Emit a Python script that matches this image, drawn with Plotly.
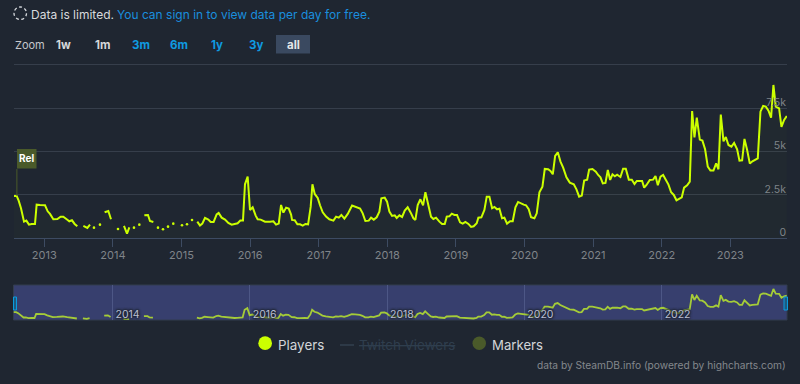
import plotly.graph_objects as go

W, H = 800, 384
FONT = "Inter"

# Player counts; None marks a gap in the data
years = [
 2012.558,2012.597,2012.626,2012.660,2012.704,2012.738,2012.776,2012.815,2012.864,2012.888,2012.937,2013.010,2013.049,2013.083,2013.131,2013.190,2013.238,2013.277,2013.340,2013.364,2013.403,2013.442,2013.481,2013.52,
 2013.569,2013.627,2013.666,2013.69,2013.724,2013.76,2013.811,2013.85,
 2013.879,2013.933,2013.972,2014.02,2014.074,2014.12,2014.161,2014.205,2014.239,2014.27,2014.307,2014.35,2014.385,2014.42,
 2014.458,2014.511,2014.540,2014.589,2014.62,2014.657,2014.69,2014.730,2014.77,2014.803,2014.84,2014.880,2014.94,2015.007,2015.04,2015.080,2015.12,2015.153,2015.19,
 2015.230,2015.269,2015.303,2015.342,2015.391,2015.425,2015.468,2015.512,2015.541,2015.585,2015.634,2015.682,2015.731,2015.779,2015.818,2015.857,2015.896,2015.925,2015.964,2015.998,
 2016.037,2016.081,2016.110,2016.154,2016.217,2016.290,2016.339,2016.378,2016.417,2016.451,2016.485,2016.524,2016.563,2016.597,2016.611,2016.650,2016.689,2016.728,2016.767,2016.806,2016.845,2016.883,2016.908,2016.942,2016.985,
 2017.019,2017.058,2017.107,2017.155,2017.214,2017.253,2017.292,2017.330,2017.374,2017.423,2017.486,2017.534,2017.603,2017.641,2017.680,2017.729,2017.763,2017.802,2017.845,2017.884,2017.913,2017.962,2017.996,
 2018.030,2018.069,2018.108,2018.137,2018.176,2018.215,2018.254,2018.297,2018.341,2018.380,2018.409,2018.443,2018.482,2018.521,2018.555,2018.594,2018.637,2018.671,2018.710,2018.759,2018.798,2018.837,2018.866,2018.905,2018.939,2018.978,
 2019.016,2019.060,2019.099,2019.138,2019.182,2019.221,2019.259,2019.303,2019.327,2019.371,2019.415,2019.449,2019.488,2019.527,2019.561,2019.600,2019.634,2019.672,2019.706,2019.745,2019.789,2019.828,2019.867,2019.906,2019.949,2019.988,
 2020.022,2020.061,2020.095,2020.144,2020.178,2020.217,2020.261,2020.295,2020.344,2020.378,2020.412,2020.446,2020.485,2020.524,2020.563,2020.611,2020.660,2020.718,2020.757,2020.796,2020.835,2020.869,2020.913,2020.942,2020.990,
 2021.039,2021.073,2021.107,2021.141,2021.180,2021.214,2021.248,2021.282,2021.316,2021.350,2021.398,2021.437,2021.476,2021.520,2021.564,2021.603,2021.637,2021.714,2021.744,2021.778,2021.826,2021.875,2021.909,2021.943,2021.982,
 2022.020,2022.059,2022.098,2022.137,2022.176,2022.215,2022.253,2022.292,2022.326,2022.370,2022.409,2022.443,2022.477,2022.511,2022.555,2022.593,2022.632,2022.671,2022.710,2022.754,2022.793,2022.827,2022.861,2022.900,2022.934,2022.973,
 2023.016,2023.055,2023.099,2023.133,2023.172,2023.206,2023.245,2023.284,2023.322,2023.361,2023.400,2023.439,2023.478,2023.517,2023.556,2023.594,2023.628,2023.662,2023.711,2023.745,2023.784,2023.823,
]
players = [
 2438,2438,2170,1728,960,1018,787,826,826,1939,1920,1901,1555,1402,1094,1114,1248,1248,1056,979,1037,826,691,None,
 710,595,787,None,614,None,787,None,
 1498,1574,1094,None,538,None,710,269,634,None,614,None,787,None,
 1325,1344,998,941,None,614,None,518,None,672,None,845,None,749,None,806,None,1056,None,
 960,730,845,1171,1075,941,941,1382,1459,1190,1075,883,787,826,864,1018,1018,3110,3552,1632,
 1786,1306,1094,1075,960,960,979,787,845,1920,1478,1766,1709,1363,1056,1037,806,806,730,826,806,1824,3110,2554,2323,
 1901,1498,1248,1094,1018,1248,1190,1344,1133,1402,1882,1824,1709,1440,998,1018,1190,1075,1210,1536,2304,2342,2112,
 1536,1286,1325,1171,1325,1229,1594,1786,1478,1152,1056,1920,2246,1901,2650,1978,1248,1114,1190,960,826,826,1248,1267,1421,1344,
 1344,922,845,941,826,653,691,864,1190,1210,1632,2400,2400,1728,1805,1670,1709,1152,1190,845,979,979,1786,2093,1997,1939,
 1901,1670,1210,1152,1440,2650,2976,3994,3974,3878,3686,4742,4954,4416,4070,3514,3206,3110,2822,2400,2458,3322,3379,3955,3994,
 3840,3648,3514,3168,3187,3936,3360,3686,3571,3667,3533,4013,4013,3379,3379,3130,3302,3302,2918,3072,3360,3379,3590,3053,3552,
 3648,3398,3091,2650,2496,2189,2266,2362,2918,3053,3264,7334,5818,6950,5683,5626,5126,4128,3898,3898,4320,3974,7123,5587,5837,5376,
 5280,5491,5126,4474,4493,5722,5088,4301,4435,4531,4608,7296,7622,7584,7354,6950,8832,7584,7488,6413,6816,7046,
]
release_year = 2012.6
release_value = 2438

year_ticks = list(range(2013, 2024))
nav_ticks = [2014, 2016, 2018, 2020, 2022]
y_ticks = [0, 2500, 5000, 7500, 10000]
y_tick_labels = ["0", "2.5k", "5k", "7.5k", ""]
zoom_buttons = ["1w", "1m", "3m", "6m", "1y", "3y", "all"]

X_RANGE = [2012.558, 2023.826]

BG = "#1f2631"
LIME = "#ccff00"
GRID = "#363e4b"
AXIS = "#3d4b62"
OLIVE = "#4a5a2a"


def px(x):
    return x / W


def py(y):
    return 1 - y / H


iso_x, iso_y = [], []
for i, v in enumerate(players):
    if v is None:
        continue
    before = players[i - 1] if i > 0 else None
    after = players[i + 1] if i + 1 < len(players) else None
    if before is None and after is None:
        iso_x.append(years[i])
        iso_y.append(v)

fig = go.Figure()
fig.add_trace(go.Scatter(x=years, y=players, mode="lines", fill="tozeroy",
                         fillcolor="rgba(204,255,0,0.014)",
                         line=dict(color=LIME, width=2), xaxis="x", yaxis="y",
                         name="Players", showlegend=False, hoverinfo="skip"))
fig.add_trace(go.Scatter(x=iso_x, y=iso_y, mode="markers",
                         marker=dict(color=LIME, size=2.6), xaxis="x", yaxis="y",
                         showlegend=False, hoverinfo="skip"))
fig.add_trace(go.Scatter(x=years, y=players, mode="lines",
                         line=dict(color="#a5cc38", width=1.8), xaxis="x2", yaxis="y2",
                         showlegend=False, hoverinfo="skip"))

shapes = [
    dict(type="rect", xref="x2 domain", yref="y2 domain", x0=0, x1=1, y0=0, y1=1,
         fillcolor="#373f6e", line=dict(color="#333d4e", width=1), layer="below"),
    dict(type="line", xref="x", yref="y", x0=release_year, x1=release_year, y0=release_value, y1=release_value + 1550,
         line=dict(color=OLIVE, width=1)),
    dict(type="rect", xref="paper", yref="paper", x0=px(17), x1=px(36.5), y0=py(168.5), y1=py(149),
         fillcolor=OLIVE, line=dict(color=OLIVE, width=0)),
    dict(type="circle", xref="paper", yref="paper", x0=px(14), x1=px(26.5), y0=py(19.5), y1=py(7),
         line=dict(color="#d5d8dc", width=1.3, dash="3px,2.5px")),
    dict(type="rect", xref="paper", yref="paper", x0=px(276), x1=px(310), y0=py(53.5), y1=py(35),
         fillcolor="#3a4960", line=dict(width=0)),
    dict(type="rect", xref="paper", yref="paper", x0=px(13.5), x1=px(16.5), y0=py(310), y1=py(297),
         fillcolor="#1c5a80", line=dict(color="#0a9be0", width=1)),
    dict(type="rect", xref="paper", yref="paper", x0=px(784), x1=px(787.5), y0=py(310), y1=py(297),
         fillcolor="#1c5a80", line=dict(color="#0a9be0", width=1)),
    dict(type="circle", xref="paper", yref="paper", x0=px(258.3), x1=px(272), y0=py(350), y1=py(336.3),
         fillcolor=LIME, line=dict(width=0)),
    dict(type="line", xref="paper", yref="paper", x0=px(340), x1=px(354), y0=py(345), y1=py(345),
         line=dict(color="#33414f", width=1.5)),
    dict(type="circle", xref="paper", yref="paper", x0=px(472.5), x1=px(486), y0=py(350), y1=py(336.5),
         fillcolor=OLIVE, line=dict(width=0)),
]


def label(text, x, y, size, color, anchor="left", **font):
    return dict(text=text, xref="paper", yref="paper", x=px(x), y=py(y), xanchor=anchor,
                yanchor="middle", showarrow=False, borderpad=0,
                font=dict(family=FONT, size=size, color=color, **font))


annotations = [
    label("Data is limited.", 30, 14, 12, "#d8dadd"),
    label("You can sign in to view data per day for free.", 116, 14, 12, "#1a8ede"),
    label("Zoom", 14, 45, 11, "#c4c7cb"),
    label("Rel", 26.8, 158, 10, "#ffffff", anchor="center", weight="bold"),
    label("Players", 277, 344.5, 13.4, "#d3d5d8"),
    label("Twitch Viewers", 358, 344.5, 13.4, "#2f3e4e", lineposition="through"),
    label("Markers", 490.5, 344.5, 13.2, "#d3d5d8"),
    label("data by SteamDB.info (powered by highcharts.com)", 787, 364.5, 10.2, "#84888d", anchor="right"),
]
btn_x = [63, 102, 141, 179, 216.5, 256, 293]
btn_col = ["#d5d7da", "#d5d7da", "#0f9ae0", "#0f9ae0", "#0f9ae0", "#0f9ae0", "#e4e6e8"]
for name, bx, col in zip(zoom_buttons, btn_x, btn_col):
    annotations.append(label(name, bx, 45, 11.5, col, anchor="center", weight="bold"))

fig.update_layout(
    width=W, height=H, autosize=False, margin=dict(l=0, r=0, t=0, b=0, pad=0),
    paper_bgcolor=BG, plot_bgcolor=BG, showlegend=False, shapes=shapes, annotations=annotations,
    font=dict(family=FONT),
    xaxis=dict(domain=[px(14), px(787)], range=X_RANGE, tickmode="array", tickvals=year_ticks,
               ticktext=[str(y) for y in year_ticks], showgrid=False, zeroline=False,
               showline=True, linecolor=AXIS, linewidth=1, ticks="outside", ticklen=8, tickwidth=1,
               tickcolor=AXIS, ticklabelstandoff=-2, tickfont=dict(family=FONT, size=11, color="#7f8489"),
               anchor="free", position=py(238.3)),
    yaxis=dict(domain=[py(246.3), py(60)], range=[-461, 10270], tickmode="array", tickvals=y_ticks,
               ticktext=y_tick_labels, side="right", ticklabelposition="inside", ticklabelshift=-6,
               ticklabelstandoff=-2, showgrid=True, gridcolor=GRID, gridwidth=1, zeroline=False,
               showline=False, ticks="", tickfont=dict(family=FONT, size=10.5, color="#7f8489"), anchor="x"),
    xaxis2=dict(domain=[px(13.5), px(787)], range=X_RANGE, tickmode="array", tickvals=nav_ticks,
                ticktext=[str(y) for y in nav_ticks], showgrid=True, gridcolor="#4d5786", gridwidth=1,
                zeroline=False, showline=False, ticks="", ticklabelposition="inside right",
                ticklabelstandoff=-6, ticklabelshift=3,
                tickfont=dict(family=FONT, size=10.5, color="#b9bdd2",
                              shadow="1px 1px 2px #1f2631, -1px -1px 2px #1f2631, 1px -1px 2px #1f2631, -1px 1px 2px #1f2631"),
                anchor="y2"),
    yaxis2=dict(domain=[py(320), py(285)], range=[276, 9945], showgrid=False, zeroline=False,
                showticklabels=False, ticks="", anchor="x2"),
)

fig.write_html("out.html", post_script="document.body.style.margin='0';document.body.style.background='#1f2631';",
               config={"displayModeBar": False})
